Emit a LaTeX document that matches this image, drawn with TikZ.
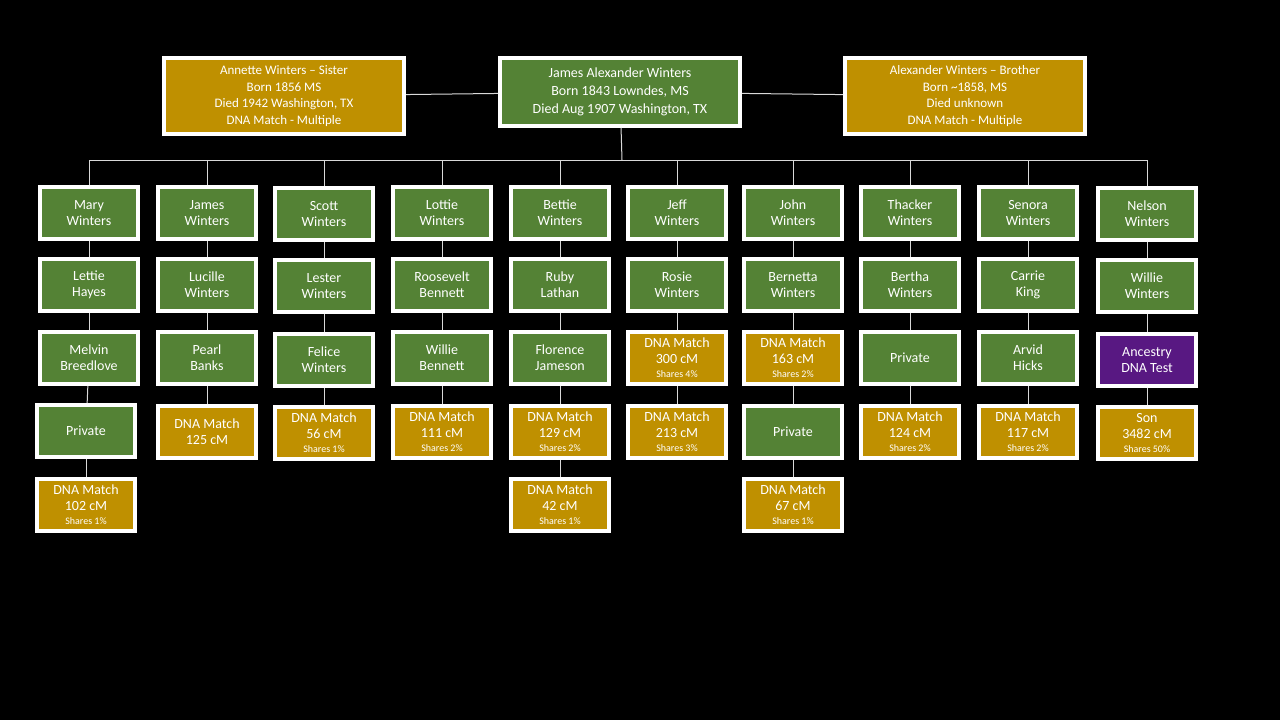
\documentclass[tikz,border=0pt]{standalone}
\usepackage{fontspec}
\setmainfont{Carlito}
\definecolor{treegreen}{RGB}{84,130,53}
\definecolor{matchgold}{RGB}{191,144,0}
\definecolor{testpurple}{RGB}{88,24,130}
\begin{document}
\begin{tikzpicture}[x=1pt, y=-1pt,
    person/.style={fill=treegreen, draw=white, line width=4pt, text=white, align=center, minimum width=98pt, minimum height=52pt, inner sep=2pt, font=\fontsize{14}{16}\selectfont},
    match/.style={person, fill=matchgold},
    dnatest/.style={person, fill=testpurple},
    elder/.style={person, minimum width=240pt, minimum height=70pt, font=\fontsize{13}{16.5}\selectfont},
    link/.style={draw=white!85!black, line width=1pt}]
    \fill[black] (0,0) rectangle (1280,720);
    \newcommand{\shares}[1]{\\[-2pt]{\fontsize{10}{11}\selectfont Shares #1}}
    % Parents row
    \node[elder, fill=matchgold, minimum height=76pt] (annette) at (284,96) {Annette Winters -- Sister\\Born 1856 MS\\Died 1942 Washington, TX\\DNA Match - Multiple};
    \node[elder, minimum height=68pt, font=\fontsize{14}{18}\selectfont] (james) at (620,92) {James Alexander Winters\\Born 1843 Lowndes, MS\\Died Aug 1907 Washington, TX};
    \node[elder, fill=matchgold, minimum height=76pt] (alex) at (965,96) {Alexander Winters -- Brother\\Born \textasciitilde 1858, MS\\Died unknown\\DNA Match - Multiple};
    \draw[link] (annette) -- (james);
    \draw[link] (james) -- (alex);
    % Children
    \node[person] (c1r1) at (89,213) {Mary\\Winters};
    \node[person] (c2r1) at (207,213) {James\\Winters};
    \node[person] (c3r1) at (324,214) {Scott\\Winters};
    \node[person] (c4r1) at (442,213) {Lottie\\Winters};
    \node[person] (c5r1) at (560,213) {Bettie\\Winters};
    \node[person] (c6r1) at (677,213) {Jeff\\Winters};
    \node[person] (c7r1) at (793,213) {John\\Winters};
    \node[person] (c8r1) at (910,213) {Thacker\\Winters};
    \node[person] (c9r1) at (1028,213) {Senora\\Winters};
    \node[person] (c10r1) at (1147,214) {Nelson\\Winters};
    % Spouses
    \node[person] (c1r2) at (89,285) {Lettie\\Hayes};
    \node[person] (c2r2) at (207,285) {Lucille\\Winters};
    \node[person] (c3r2) at (324,286) {Lester\\Winters};
    \node[person] (c4r2) at (442,285) {Roosevelt\\Bennett};
    \node[person] (c5r2) at (560,285) {Ruby\\Lathan};
    \node[person] (c6r2) at (677,285) {Rosie\\Winters};
    \node[person] (c7r2) at (793,285) {Bernetta\\Winters};
    \node[person] (c8r2) at (910,285) {Bertha\\Winters};
    \node[person] (c9r2) at (1028,285) {Carrie\\King};
    \node[person] (c10r2) at (1147,286) {Willie\\Winters};
    % Third row
    \node[person] (c1r3) at (89,358) {Melvin\\Breedlove};
    \node[person] (c2r3) at (207,358) {Pearl\\Banks};
    \node[person] (c3r3) at (324,360) {Felice\\Winters};
    \node[person] (c4r3) at (442,358) {Willie\\Bennett};
    \node[person] (c5r3) at (560,358) {Florence\\Jameson};
    \node[match] (c6r3) at (677,358) {DNA Match\\300 cM\shares{4\%}};
    \node[match] (c7r3) at (793,358) {DNA Match\\163 cM\shares{2\%}};
    \node[person] (c8r3) at (910,358) {Private};
    \node[person] (c9r3) at (1028,358) {Arvid\\Hicks};
    \node[dnatest] (c10r3) at (1147,360) {Ancestry\\DNA Test};
    % Fourth row
    \node[person] (c1r4) at (86,431) {Private};
    \node[match] (c2r4) at (207,432) {DNA Match\\125 cM};
    \node[match] (c3r4) at (324,433) {DNA Match\\56 cM\shares{1\%}};
    \node[match] (c4r4) at (442,432) {DNA Match\\111 cM\shares{2\%}};
    \node[match] (c5r4) at (560,432) {DNA Match\\129 cM\shares{2\%}};
    \node[match] (c6r4) at (677,432) {DNA Match\\213 cM\shares{3\%}};
    \node[person] (c7r4) at (793,432) {Private};
    \node[match] (c8r4) at (910,432) {DNA Match\\124 cM\shares{2\%}};
    \node[match] (c9r4) at (1028,432) {DNA Match\\117 cM\shares{2\%}};
    \node[match] (c10r4) at (1147,433) {Son\\3482 cM\shares{50\%}};
    % Fifth row
    \node[match] (c1r5) at (86,505) {DNA Match\\102 cM\shares{1\%}};
    \node[match] (c5r5) at (560,505) {DNA Match\\42 cM\shares{1\%}};
    \node[match] (c7r5) at (793,505) {DNA Match\\67 cM\shares{1\%}};
    % Connectors
    \coordinate (bus) at (622,160);
    \draw[link] (james) -- (bus);
    \draw[link] (c1r1.north |- bus) -- (c10r1.north |- bus);
    \foreach \c in {1,...,10} {
        \draw[link] (c\c r1.north |- bus) -- (c\c r1.north);
        \draw[link] (c\c r1) -- (c\c r2);
        \draw[link] (c\c r2) -- (c\c r3);
        \draw[link] (c\c r3) -- (c\c r4);
    }
    \foreach \c in {1,5,7}
        \draw[link] (c\c r4) -- (c\c r5);
\end{tikzpicture}
\end{document}
